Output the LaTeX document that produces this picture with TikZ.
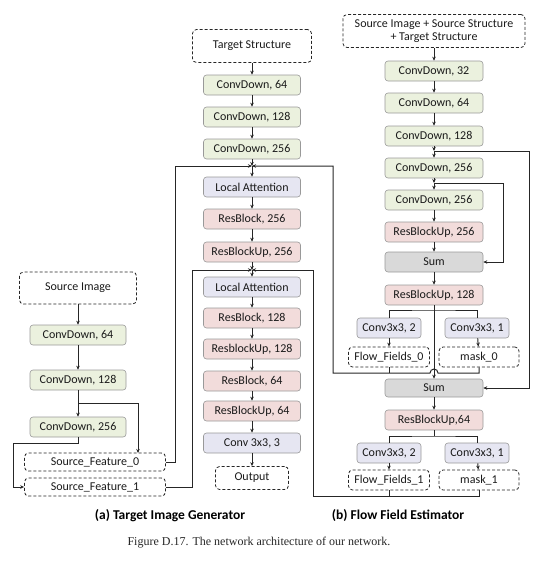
\documentclass[tikz,border=0pt]{standalone}
\usepackage{fontspec}
\setmainfont{Carlito}
\newfontfamily\capfont{Liberation Serif}
\usetikzlibrary{arrows.meta}
\definecolor{cgreen}{HTML}{EBF1DE}
\definecolor{cpink}{HTML}{F2DCDB}
\definecolor{clav}{HTML}{E6E6F2}
\definecolor{cgray}{HTML}{D9D9D9}
\definecolor{cborder}{HTML}{999999}
\definecolor{ctext}{HTML}{1A1A1A}
\begin{document}
\begin{tikzpicture}[x=1pt,y=-1pt,
  box/.style={draw=cborder, rounded corners=3pt, minimum width=97pt, minimum height=20pt,
    inner sep=0pt, line width=0.6pt, text=ctext, font=\fontsize{12}{14}\selectfont},
  gbox/.style={box, fill=cgreen},
  pbox/.style={box, fill=cpink},
  lbox/.style={box, fill=clav},
  sbox/.style={box, fill=cgray},
  dbox/.style={draw=black!85, dash pattern=on 3pt off 2pt, rounded corners=4pt, inner sep=0pt,
    line width=0.8pt, text=ctext, font=\fontsize{12}{14}\selectfont},
  conn/.style={line width=1pt, draw=black!85},
  arr/.style={conn, -{Stealth[length=4pt,width=3.5pt]}},
]
\useasboundingbox (0,0) rectangle (554,562);

% ---------- Source column ----------
\node[dbox, minimum width=117pt, minimum height=32pt] (si) at (78,288) {Source Image};
\node[gbox, minimum width=96pt] (s1) at (78,335) {ConvDown, 64};
\node[gbox, minimum width=96pt] (s2) at (78,380) {ConvDown, 128};
\node[gbox, minimum width=96pt] (s3) at (78,427) {ConvDown, 256};
\node[dbox, minimum width=141pt, minimum height=18pt] (sf0) at (95,462) {Source\_Feature\_0};
\node[dbox, minimum width=141pt, minimum height=18pt] (sf1) at (95,487) {Source\_Feature\_1};
\coordinate (sj) at (78,403);
\coordinate (sf0in) at (138,453);
\coordinate (a1) at (13,443);

\draw[arr] (si) -- (s1);
\draw[arr] (s1) -- (s2);
\draw[arr] (s2) -- (s3);
\draw[arr] (sj) -| (sf0in);
\draw[arr] (s3.south) |- (a1) |- (sf1.west);

% ---------- Target Image Generator ----------
\node[dbox, minimum width=119pt, minimum height=33pt] (ts) at (252,46) {Target Structure};
\node[gbox] (g1) at (252,85) {ConvDown, 64};
\node[gbox] (g2) at (252,117) {ConvDown, 128};
\node[gbox] (g3) at (252,149) {ConvDown, 256};
\coordinate (gj1) at (252,166);
\node[lbox] (g4) at (252,187) {Local Attention};
\node[pbox] (g5) at (252,219) {ResBlock, 256};
\node[pbox] (g6) at (252,252) {ResBlockUp, 256};
\coordinate (gj2) at (252,270);
\node[lbox] (g7) at (252,287) {Local Attention};
\node[pbox] (g8) at (252,318) {ResBlock, 128};
\node[pbox] (g9) at (252,349) {ResblockUp, 128};
\node[pbox] (g10) at (252,381) {ResBlock, 64};
\node[pbox] (g11) at (252,411) {ResBlockUp, 64};
\node[lbox] (g12) at (252,443) {Conv 3x3, 3};
\node[dbox, minimum width=73pt, minimum height=23pt] (out) at (252,478) {Output};

\draw[arr] (ts) -- (g1);
\draw[arr] (g1) -- (g2);
\draw[arr] (g2) -- (g3);
\draw[arr] (g3) -- (gj1);
\draw[arr] (gj1) -- (g4);
\draw[arr] (g4) -- (g5);
\draw[arr] (g5) -- (g6);
\draw[arr] (g6) -- (gj2);
\draw[arr] (gj2) -- (g7);
\draw[arr] (g7) -- (g8);
\draw[arr] (g8) -- (g9);
\draw[arr] (g9) -- (g10);
\draw[arr] (g10) -- (g11);
\draw[arr] (g11) -- (g12);
\draw[arr] (g12) -- (out);

\coordinate (c175) at (175,166);
\coordinate (c192) at (192,270);
\draw[arr] (sf0.east) -| (c175) -- (gj1);
\draw[arr] (sf1.east) -| (c192) -- (gj2);

% ---------- Flow Field Estimator ----------
\node[dbox, minimum width=182pt, minimum height=33pt, align=center, font=\fontsize{12}{13.5}\selectfont] (top) at (434,31)
  {Source Image + Source Structure\\+ Target Structure};
\node[gbox, minimum width=98pt] (e1) at (434,71) {ConvDown, 32};
\node[gbox, minimum width=98pt] (e2) at (434,103) {ConvDown, 64};
\node[gbox, minimum width=98pt] (e3) at (434,136) {ConvDown, 128};
\coordinate (ej1) at (434,151);
\node[gbox, minimum width=98pt] (e4) at (434,168) {ConvDown, 256};
\coordinate (ej2) at (434,183);
\node[gbox, minimum width=98pt] (e5) at (434,200) {ConvDown, 256};
\node[pbox, minimum width=98pt] (e6) at (434,232) {ResBlockUp, 256};
\node[sbox, minimum width=98pt] (sum1) at (434,262) {Sum};
\node[pbox, minimum width=98pt] (e7) at (434,295) {ResBlockUp, 128};
\coordinate (ej3) at (434,310);
\node[lbox, minimum width=64pt] (c1) at (389,328) {Conv3x3, 2};
\node[lbox, minimum width=64pt] (c2) at (477,328) {Conv3x3, 1};
\node[dbox, minimum width=81pt, minimum height=20pt] (ff0) at (389,357) {Flow\_Fields\_0};
\node[dbox, minimum width=80pt, minimum height=20pt] (m0) at (479,357) {mask\_0};
\node[sbox, minimum width=98pt, minimum height=18pt] (sum2) at (434,388) {Sum};
\node[pbox, minimum width=98pt] (e8) at (434,420) {ResBlockUp,64};
\coordinate (ej4) at (434,436);
\node[lbox, minimum width=64pt] (c3) at (389,453) {Conv3x3, 2};
\node[lbox, minimum width=64pt] (c4) at (477,453) {Conv3x3, 1};
\node[dbox, minimum width=81pt, minimum height=20pt] (ff1) at (389,480) {Flow\_Fields\_1};
\node[dbox, minimum width=80pt, minimum height=20pt] (m1) at (479,480) {mask\_1};

\draw[arr] (top) -- (e1);
\draw[arr] (e1) -- (e2);
\draw[arr] (e2) -- (e3);
\draw[arr] (e3) -- (ej1);
\draw[arr] (ej1) -- (e4);
\draw[arr] (e4) -- (ej2);
\draw[arr] (ej2) -- (e5);
\draw[arr] (e5) -- (e6);
\draw[arr] (e6) -- (sum1);
\draw[arr] (sum1) -- (e7);
\coordinate (r1) at (529,151);
\coordinate (r2) at (503,183);
\draw[arr] (ej1) -- (r1) |- (sum2.east);
\draw[arr] (ej2) -- (r2) |- (sum1.east);

\draw[conn] (e7.south) -- (ej3);
\draw[conn] (c1.north) |- (ej3) -| (c2.north);
\draw[arr] (ej3) -- (sum2.north);
\draw[arr] (c1) -- (ff0);
\draw[arr] (c2) -- (m0);

\draw[arr] (sum2) -- (e8);
\draw[conn] (e8.south) -- (ej4);
\draw[conn] (c3.north) |- (ej4) -| (c4.north);
\draw[arr] (c3) -- (ff1);
\draw[arr] (c4) -- (m1);

% loop 1 (with hop over centre line)
\coordinate (l1r) at (479,373);
\coordinate (l1h) at (438,373);
\coordinate (l1l) at (333,373);
\coordinate (l1t) at (333,166);
\draw[conn] (ff0.south) -- (ff0.south |- l1r);
\draw[arr] (m0.south) -- (l1r) -- (l1h) arc[start angle=0, end angle=180, radius=4pt] -- (l1l) -- (l1t) -- (gj1);

% loop 2
\coordinate (l2r) at (479,496);
\coordinate (l2b) at (313,496);
\coordinate (l2t) at (313,270);
\draw[conn] (ff1.south) -- (ff1.south |- l2r);
\draw[arr] (m1.south) -- (l2r) -- (l2b) -- (l2t) -- (gj2);

% ---------- titles ----------
\node[font=\bfseries\fontsize{13.5}{15}\selectfont, text=black] (ta) at (170,516) {(a) Target Image Generator};
\node[font=\bfseries\fontsize{13.5}{15}\selectfont, text=black] (tb) at (398,516) {(b) Flow Field Estimator};
\node[font=\capfont\fontsize{12}{14}\selectfont, text=black!85] (cap) at (259,543) {Figure D.17. The network architecture of our network.};
\end{tikzpicture}
\end{document}
